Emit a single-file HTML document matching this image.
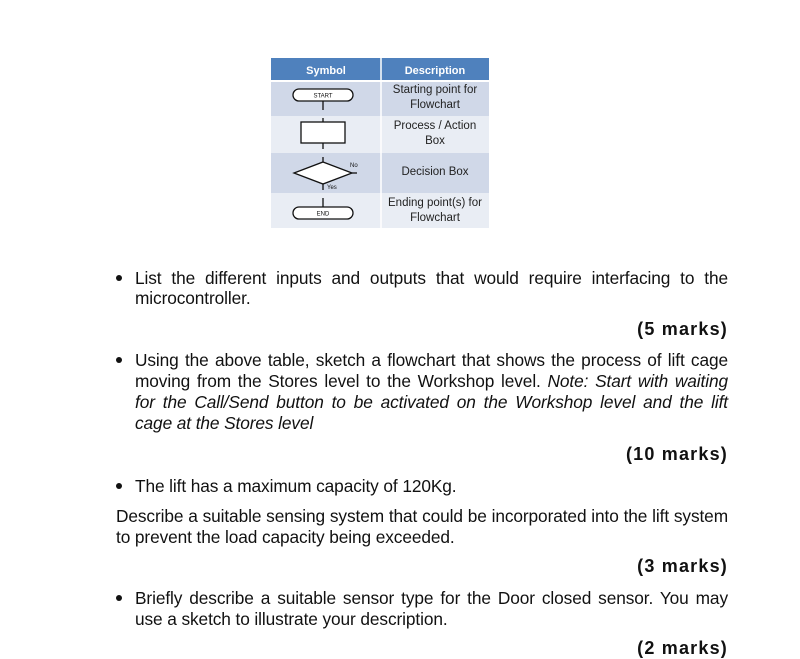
<!DOCTYPE html>
<html><head><style>
body{margin:0;width:800px;height:656px;background:#fff;overflow:hidden;position:relative;font-family:"Liberation Sans",sans-serif;color:#111}
.t{position:absolute;font-size:17.3px;line-height:20.5px;letter-spacing:-0.1px}
.j{left:135px;width:593px;text-align:justify;text-align-last:justify}
.b{position:absolute;left:116px;width:6px;height:6px;border-radius:50%;background:#111}
.m{position:absolute;right:72px;font-weight:bold;font-size:18px;letter-spacing:1.2px}
.c{position:absolute;font-size:11.5px;text-align:center;color:#222;line-height:15px;font-family:"Liberation Sans",sans-serif}
</style></head><body>
<svg style="position:absolute;left:0;top:0" width="800" height="656">
<rect x="271" y="58" width="218" height="23" fill="#4f81bd"/>
<rect x="271" y="81" width="218" height="35" fill="#d0d8e8"/>
<rect x="271" y="116" width="218" height="37" fill="#e9edf4"/>
<rect x="271" y="153" width="218" height="40" fill="#d0d8e8"/>
<rect x="271" y="193" width="218" height="35" fill="#e9edf4"/>
<line x1="381" y1="58" x2="381" y2="228" stroke="#fff" stroke-width="1.5"/>
<line x1="271" y1="81" x2="489" y2="81" stroke="#fff" stroke-width="2"/>
<text x="326" y="74" font-size="11" font-weight="bold" fill="#fff" text-anchor="middle" font-family="Liberation Sans">Symbol</text>
<text x="435" y="74" font-size="11" font-weight="bold" fill="#fff" text-anchor="middle" font-family="Liberation Sans">Description</text>
<g stroke="#111" stroke-width="1.3" fill="#fff">
<rect x="293" y="89" width="60" height="12" rx="6"/>
<line x1="323" y1="101" x2="323" y2="110"/>
<line x1="323" y1="118" x2="323" y2="122"/>
<rect x="301" y="122" width="44" height="21"/>
<line x1="323" y1="143" x2="323" y2="149"/>
<line x1="323" y1="157" x2="323" y2="162"/>
<polygon points="323,162 352,173 323,184 294,173"/>
<line x1="352" y1="173" x2="357" y2="173"/>
<line x1="323" y1="184" x2="323" y2="190"/>
<line x1="323" y1="198" x2="323" y2="207"/>
<rect x="293" y="207" width="60" height="12" rx="6"/>
</g>
<g font-family="Liberation Sans" font-size="6" fill="#111">
<text x="323" y="97.5" text-anchor="middle">START</text>
<text x="323" y="215.5" text-anchor="middle">END</text>
<text x="350" y="167">No</text>
<text x="327" y="189">Yes</text>
</g>
</svg>
<div class="c" style="left:381px;width:108px;top:83px">Starting point for<br>Flowchart</div>
<div class="c" style="left:381px;width:108px;top:119px">Process / Action<br>Box</div>
<div class="c" style="left:381px;width:108px;top:165px">Decision Box</div>
<div class="c" style="left:381px;width:108px;top:196px">Ending point(s) for<br>Flowchart</div>

<div class="b" style="top:275px"></div>
<div class="t j" style="top:268px">List the different inputs and outputs that would require interfacing to the</div>
<div class="t" style="left:135px;top:288px">microcontroller.</div>
<div class="m" style="top:319px">(5 marks)</div>
<div class="b" style="top:357px"></div>
<div class="t j" style="top:350px">Using the above table, sketch a flowchart that shows the process of lift cage</div>
<div class="t j" style="top:371px">moving from the Stores level to the Workshop level. <i>Note: Start with waiting</i></div>
<div class="t j" style="top:392px;font-style:italic">for the Call/Send button to be activated on the Workshop level and the lift</div>
<div class="t" style="left:135px;top:413px;font-style:italic">cage at the Stores level</div>
<div class="m" style="top:444px">(10 marks)</div>
<div class="b" style="top:483px"></div>
<div class="t" style="left:135px;top:476px">The lift has a maximum capacity of 120Kg.</div>
<div class="t" style="left:116px;width:612px;text-align:justify;text-align-last:justify;top:506px">Describe a suitable sensing system that could be incorporated into the lift system</div>
<div class="t" style="left:116px;top:527px">to prevent the load capacity being exceeded.</div>
<div class="m" style="top:556px">(3 marks)</div>
<div class="b" style="top:595px"></div>
<div class="t j" style="top:588px">Briefly describe a suitable sensor type for the Door closed sensor. You may</div>
<div class="t" style="left:135px;top:609px">use a sketch to illustrate your description.</div>
<div class="m" style="top:638px">(2 marks)</div>
</body></html>
